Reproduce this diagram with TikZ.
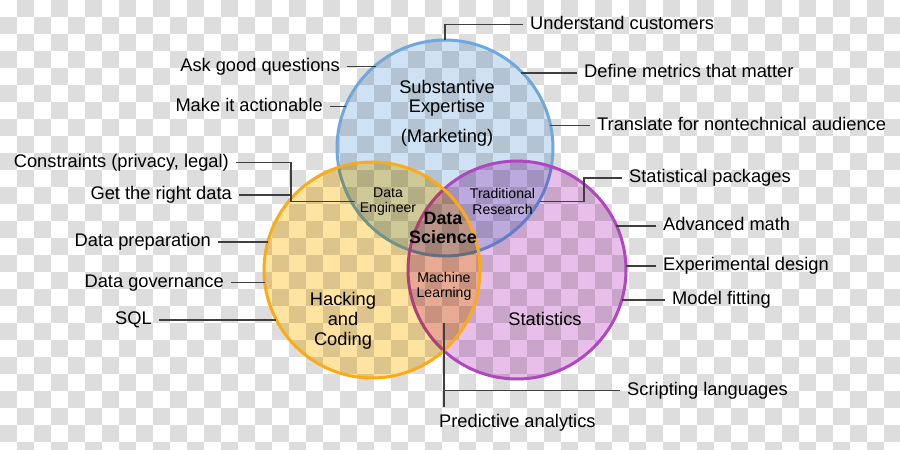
\documentclass[tikz,border=0pt]{standalone}
\usepackage{fontspec}
\setmainfont{Liberation Sans}
\usepackage{tikz}
\usetikzlibrary{shapes,calc,backgrounds}
\usepackage{xcolor}
\definecolor{expline}{HTML}{6FA8DC}
\definecolor{expfill}{HTML}{CFE2F3}
\definecolor{hackline}{HTML}{FBAA19}
\definecolor{hackfill}{HTML}{FFE3A0}
\definecolor{statline}{HTML}{B046C0}
\definecolor{statfill}{HTML}{E8BFEA}
\definecolor{checkgray}{HTML}{DDDDDD}
\definecolor{linkgray}{HTML}{3F3F3F}
\tikzstyle{venn}=[circle, inner sep=0pt, outer sep=0pt, line width=1.7pt]
\tikzstyle{lbl}=[font=\fontsize{10.4}{11.3}\selectfont, inner sep=3.9pt, text height=7.5pt, text depth=2pt]
\tikzstyle{area}=[align=center, inner sep=2pt, font=\fontsize{10.4}{11.3}\selectfont]
\tikzstyle{sub}=[align=center, inner sep=2.5pt, font=\fontsize{8}{8.6}\selectfont]
\tikzstyle{core}=[align=center, inner sep=2pt, font=\bfseries\fontsize{10.2}{10.8}\selectfont]
\tikzstyle{link}=[draw=linkgray, line width=.85pt]
\newcommand{\venncircle}[5]{
 \node[venn, minimum size=#4, draw=#2line, preaction={fill=#2fill, blend mode=multiply}] (#1) at #3 {};
 \node[area] (#1text) at #5;
}

\begin{document}
\begin{tikzpicture}[x=0.02cm, y=-0.02cm]
 \useasboundingbox (0,0) rectangle (900,450);
 \fill[white] (0,0) rectangle (900,450);
 \begin{scope}
 \clip (0,0) rectangle (900,450);
 \foreach \i in {0,...,52}
  \foreach \k in {0,...,13}
   \fill[checkgray] ({17*\i},{17*(2*\k+1-mod(\i,2))}) rectangle ++(17,17);
 \end{scope}
%
 \venncircle{expert}{exp}{(445,148)}{4.32cm}{(447,113) {Substantive\\Expertise\\[5.5pt](Marketing)}}
 \venncircle{stats}{stat}{(517,270)}{4.36cm}{(545,318.5) {Statistics}}
 \venncircle{hacking}{hack}{(372,270)}{4.32cm}{(343,320.5) {Hacking\\and\\Coding}}
%
 \node[sub] (engineer) at (388,201.5) {Data\\Engineer};
 \node[sub] (research) at (502.5,201.5) {Traditional\\Research};
 \node[sub] (learning) at (444,286.5) {Machine\\Learning};
 \node[core] (science) at (443,228) {Data\\Science};
%
 \node[lbl, anchor=east] (ask) at (347,66.5) {Ask good questions};
 \node[lbl, anchor=east] (actionable) at (330,106.5) {Make it actionable};
 \node[lbl, anchor=east] (constraints) at (236,162.5) {Constraints (privacy, legal)};
 \node[lbl, anchor=east] (rightdata) at (239,195) {Get the right data};
 \node[lbl, anchor=east] (preparation) at (218,242) {Data preparation};
 \node[lbl, anchor=east] (governance) at (231,282.5) {Data governance};
 \node[lbl, anchor=east] (sql) at (159,320) {SQL};
 \node[lbl, anchor=west] (understand) at (523,24.5) {Understand customers};
 \node[lbl, anchor=west] (metrics) at (577,73) {Define metrics that matter};
 \node[lbl, anchor=west] (translate) at (590,125.5) {Translate for nontechnical audience};
 \node[lbl, anchor=west] (statpack) at (622,178) {Statistical packages};
 \node[lbl, anchor=west] (advmath) at (656,226) {Advanced math};
 \node[lbl, anchor=west] (experimental) at (656,266) {Experimental design};
 \node[lbl, anchor=west] (fitting) at (665,300) {Model fitting};
 \node[lbl, anchor=west] (scripting) at (620,390.5) {Scripting languages};
 \node[lbl, anchor=west] (predictive) at (432,423) {Predictive analytics};
%
 \draw[link] (ask.east) -- (ask.east -| expert.130);
 \draw[link] (actionable.east) -- (actionable.east -| expert.157);
 \draw[link] (understand.west) -| (expert.north);
 \draw[link] (metrics.west) -- (metrics.west -| expert.45);
 \draw[link] (translate.west) -- (translate.west -| expert.13);
 \draw[link] (constraints.east) -- ++(55,0) |- (engineer.west);
 \draw[link] (rightdata.east) -- ++(52,0);
 \draw[link] (preparation.east) -- (preparation.east -| hacking.165);
 \draw[link] (governance.east) -- (governance.east -| hacking.186);
 \draw[link] (sql.east) -- (sql.east -| hacking.207);
 \draw[link] (research.east) -- ++(44,0) |- (statpack.west);
 \draw[link] (advmath.west) -- (advmath.west -| stats.25);
 \draw[link] (experimental.west) -- (experimental.west -| stats.3);
 \draw[link] (fitting.west) -- (fitting.west -| stats.345);
 \coordinate (mlfoot) at ([yshift=-10pt]learning.south);
 \draw[link] (mlfoot) -- (mlfoot |- predictive.north);
 \draw[link] (mlfoot |- scripting.west) -- (scripting.west);
\end{tikzpicture}
\end{document}
